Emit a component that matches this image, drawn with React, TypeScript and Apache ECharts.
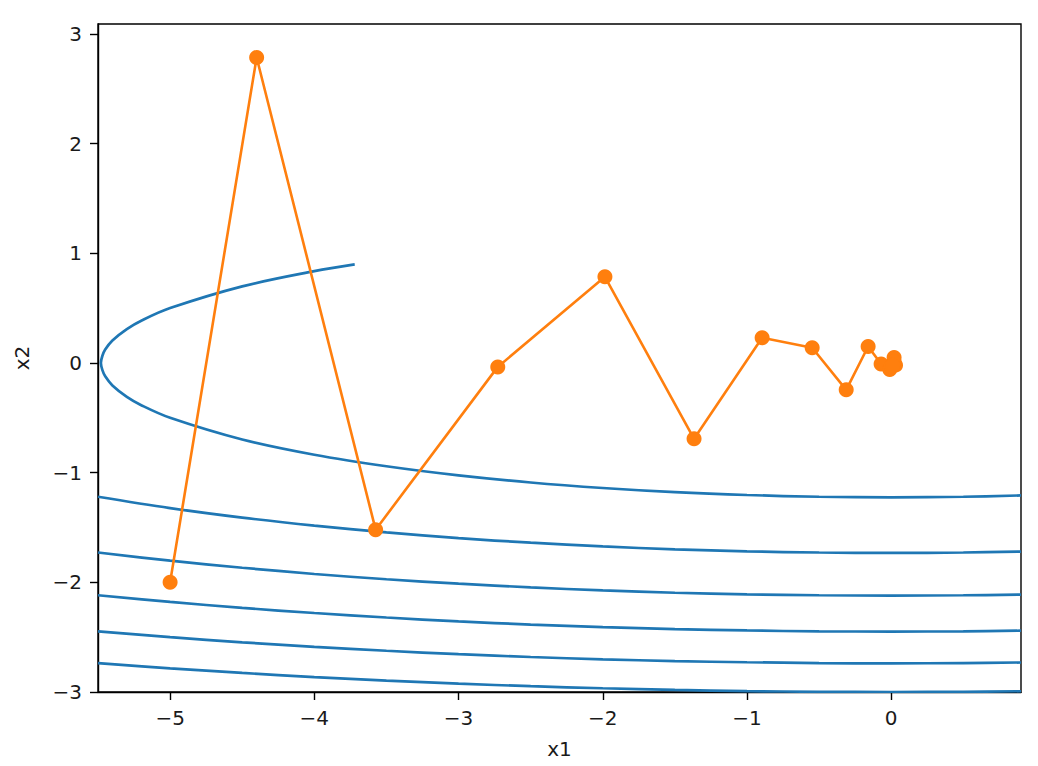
import React, { useEffect, useRef } from "react";
import * as echarts from "echarts";

// Trajectory (x1, x2)
const trajX1 = [-5.0, -4.4, -3.575, -2.728, -1.985, -1.367, -0.895, -0.548, -0.312, -0.16, -0.07, 0.02, -0.01, 0.03, 0.0, 0.02, 0.01];
const trajX2 = [-2.0, 2.785, -1.52, -0.036, 0.785, -0.692, 0.229, 0.138, -0.245, 0.15, -0.01, 0.05, -0.06, -0.02, -0.03, 0.01, -0.02];

// Closed-end contour (level 3) read as points
const c3X1 = [-3.72, -4.0, -4.5, -5.0, -5.2, -5.3, -5.4, -5.45, -5.47, -5.48, -5.47, -5.45, -5.4, -5.3, -5.2, -5.0, -4.5, -4.0, -3.5, -3.0, -2.5, -2.0, -1.5, -1.0, -0.5, 0.0, 0.5, 0.9];
const c3X2 = [0.899, 0.837, 0.698, 0.5, 0.385, 0.309, 0.205, 0.122, 0.063, 0.0, -0.063, -0.122, -0.205, -0.309, -0.385, -0.5, -0.698, -0.837, -0.942, -1.025, -1.09, -1.14, -1.178, -1.204, -1.22, -1.225, -1.22, -1.208];

// Open contours (lower branches) sampled along x1
const contourX1 = [-5.5, -5.0, -4.5, -4.0, -3.5, -3.0, -2.5, -2.0, -1.5, -1.0, -0.5, 0.0, 0.5, 0.9];
const c6X2 = [-1.22, -1.323, -1.41, -1.483, -1.545, -1.597, -1.639, -1.673, -1.699, -1.718, -1.728, -1.732, -1.728, -1.72];
const c9X2 = [-1.728, -1.803, -1.867, -1.924, -1.972, -2.012, -2.046, -2.074, -2.095, -2.11, -2.118, -2.121, -2.118, -2.112];
const c12X2 = [-2.118, -2.179, -2.233, -2.28, -2.321, -2.356, -2.385, -2.408, -2.426, -2.439, -2.447, -2.449, -2.447, -2.441];
const c15X2 = [-2.447, -2.5, -2.547, -2.588, -2.624, -2.655, -2.681, -2.702, -2.718, -2.729, -2.736, -2.739, -2.736, -2.731];
const c18X2 = [-2.736, -2.784, -2.826, -2.864, -2.896, -2.924, -2.947, -2.966, -2.981, -2.992, -2.998, -3.0, -2.998, -2.993];

const xTicks = [-5, -4, -3, -2, -1, 0];
const yTicks = [-3, -2, -1, 0, 1, 2, 3];

const BLUE = "#1f77b4";
const ORANGE = "#ff7f0e";
const FONT = "DejaVu Sans";

const fmt = (v: number) => (v < 0 ? "\u2212" + Math.abs(v) : String(v));
const zip = (a: number[], b: number[]) => a.map((v, i) => [v, b[i]]);

export default function App() {
  const ref = useRef<HTMLDivElement>(null);
  useEffect(() => {
    if (!ref.current) return;
    const chart = echarts.init(ref.current, null, { renderer: "svg" });
    const contourSeries = [zip(c3X1, c3X2), zip(contourX1, c6X2), zip(contourX1, c9X2), zip(contourX1, c12X2), zip(contourX1, c15X2), zip(contourX1, c18X2)].map((d) => ({
      type: "line",
      data: d,
      showSymbol: false,
      smooth: 0.35,
      lineStyle: { color: BLUE, width: 2.7 },
      silent: true,
      z: 2,
    }));
    const axisCommon = {
      axisLine: { show: true, onZero: false, lineStyle: { color: "#000", width: 1.4 } },
      axisTick: { show: true, length: 8, inside: false, lineStyle: { color: "#000", width: 1.4 } },
      splitLine: { show: false },
      nameTextStyle: { fontFamily: FONT, fontSize: 20, color: "#1a1a1a" },
    };
    chart.setOption({
      animation: false,
      backgroundColor: "#fff",
      grid: { left: 98, right: 17, top: 24, bottom: 74, show: true, borderColor: "#000", borderWidth: 1.4, backgroundColor: "transparent" },
      xAxis: {
        type: "value",
        min: -5.5,
        max: 0.9,
        name: "x1",
        nameLocation: "middle",
        nameGap: 47,
        ...axisCommon,
        axisTick: { ...axisCommon.axisTick, customValues: xTicks },
        axisLabel: { customValues: xTicks, formatter: fmt, margin: 16, fontFamily: FONT, fontSize: 20, color: "#1a1a1a" },
      },
      yAxis: {
        type: "value",
        min: -3,
        max: 3.09,
        name: "x2",
        nameLocation: "middle",
        nameGap: 66,
        ...axisCommon,
        axisTick: { ...axisCommon.axisTick, customValues: yTicks },
        axisLabel: { customValues: yTicks, formatter: fmt, margin: 16, fontFamily: FONT, fontSize: 20, color: "#1a1a1a" },
      },
      series: [
        ...contourSeries,
        {
          type: "line",
          data: zip(trajX1, trajX2),
          symbol: "circle",
          symbolSize: 15,
          showSymbol: true,
          itemStyle: { color: ORANGE },
          lineStyle: { color: ORANGE, width: 2.6 },
          z: 3,
        },
      ],
    });
    return () => chart.dispose();
  }, []);
  return <div ref={ref} style={{ position: "fixed", left: 0, top: 0, width: 1038, height: 766, background: "#fff" }} />;
}
